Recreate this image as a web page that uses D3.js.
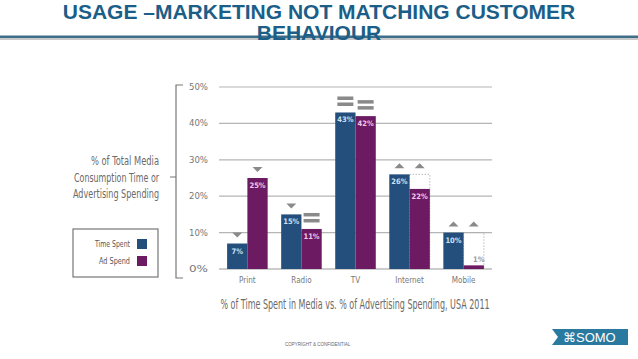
<!DOCTYPE html>
<html>
<head>
<meta charset="utf-8">
<script src="https://cdn.jsdelivr.net/npm/d3@7"></script>
<style>
  body { margin: 0; background: #fff; }
  svg { display: block; }
</style>
</head>
<body>
<div class="chart"></div>
<script>
let categories = ["Print", "Radio", "TV", "Internet", "Mobile"]
let timeSpent = [7, 15, 43, 26, 10]
let adSpend = [25, 11, 42, 22, 1]
// trend marker above each bar: down, flat, up
let timeMarker = ["down", "down", "flat", "up", "up"]
let adMarker = ["down", "flat", "flat", "up", "up"]
let yTicks = [0, 10, 20, 30, 40, 50]

let width = 638, height = 359
let svg = d3.select(".chart")
    .append("svg")
    .attr("width", width)
    .attr("height", height)

let blue = "#244e7c", purple = "#6c1a62", grey = "#8a8a8a"
let condensed = "'DejaVu Sans Condensed', 'Liberation Sans Narrow', sans-serif"

// title
let title = svg.append("g")
title.append("rect").attr("x", 0).attr("y", 38).attr("width", width).attr("height", 2).attr("fill", "#c8c8c8")
title.append("rect").attr("x", 0).attr("y", 35.5).attr("width", width).attr("height", 2.5).attr("fill", "#3f6f88")
title.selectAll("text")
    .data(["USAGE \u2013MARKETING NOT MATCHING CUSTOMER", "BEHAVIOUR"])
    .enter()
    .append("text")
    .attr("x", 319)
    .attr("y", (d, i) => i == 0 ? 19 : 40)
    .attr("text-anchor", "middle")
    .attr("font-family", "Liberation Sans, Arial, sans-serif")
    .attr("font-weight", "bold")
    .attr("font-size", 21)
    .attr("fill", "#1b5e88")
    .text(d => d)

// scales
let x = d3.scaleBand().domain(categories).range([219, 492]).paddingInner(0.25).paddingOuter(0.15)
let xSub = d3.scaleBand().domain(["time", "ad"]).range([0, x.bandwidth()])
let y = d3.scaleLinear().domain([0, 50]).range([269, 87])

// gridlines
svg.append("g")
    .selectAll("line")
    .data(yTicks)
    .enter()
    .append("line")
    .attr("x1", 219).attr("x2", 492)
    .attr("y1", d => y(d)).attr("y2", d => y(d))
    .attr("stroke", d => d == 0 ? "#9a9a9a" : "#b5b5b5")
    .attr("stroke-width", 1.2)

// y tick labels
svg.append("g")
    .selectAll("text")
    .data(yTicks)
    .enter()
    .append("text")
    .attr("x", 208)
    .attr("y", d => y(d) + 3)
    .attr("text-anchor", "end")
    .attr("font-family", condensed)
    .attr("font-size", 8)
    .attr("fill", "#777")
    .attr("textLength", 19)
    .attr("lengthAdjust", "spacingAndGlyphs")
    .text(d => d + "%")

// bracket
svg.append("path")
    .attr("fill", "none")
    .attr("stroke", "#777")
    .attr("stroke-width", 1.2)
    .attr("d", `M183,${y(50) - 2} H176 V${y(0) + 9} H183 M176,177 H170`)

// y title
let yTitle = ["% of Total Media", "Consumption Time or", "Advertising Spending"]
let yTitleLen = [68, 85, 86]
svg.append("g")
    .selectAll("text")
    .data(yTitle)
    .enter()
    .append("text")
    .attr("x", 159)
    .attr("y", (d, i) => 165 + i * 16.5)
    .attr("text-anchor", "end")
    .attr("font-family", condensed)
    .attr("font-size", 12)
    .attr("fill", "#6a6a6a")
    .attr("textLength", (d, i) => yTitleLen[i])
    .attr("lengthAdjust", "spacingAndGlyphs")
    .text(d => d)

// legend
let legend = svg.append("g")
legend.append("rect").attr("x", 73).attr("y", 229).attr("width", 85).attr("height", 48)
    .attr("fill", "none").attr("stroke", "#777").attr("stroke-width", 1.2)
legend.selectAll("text")
    .data(["Time Spent", "Ad Spend"])
    .enter()
    .append("text")
    .attr("x", 130)
    .attr("y", (d, i) => 247 + i * 17)
    .attr("text-anchor", "end")
    .attr("font-family", condensed)
    .attr("font-size", 8)
    .attr("fill", "#555")
    .attr("textLength", (d, i) => i == 0 ? 35 : 31)
    .attr("lengthAdjust", "spacingAndGlyphs")
    .text(d => d)
legend.selectAll("rect.sw")
    .data([blue, purple])
    .enter()
    .append("rect")
    .attr("class", "sw")
    .attr("x", 137)
    .attr("y", (d, i) => 239 + i * 17)
    .attr("width", 10).attr("height", 10)
    .attr("fill", d => d)

// bars
let rows = categories.map((c, i) => [
    { cat: c, key: "time", value: timeSpent[i], marker: timeMarker[i], color: blue },
    { cat: c, key: "ad", value: adSpend[i], marker: adMarker[i], color: purple }
])
let bars = rows.flat()

// dotted outline where ad spend lags time spent (internet, mobile)
svg.append("g")
    .selectAll("rect")
    .data(rows.filter(r => r[0].marker == "up"))
    .enter()
    .append("rect")
    .attr("x", d => x(d[1].cat) + xSub("ad"))
    .attr("y", d => y(d[0].value))
    .attr("width", xSub.bandwidth())
    .attr("height", d => y(0) - y(d[0].value))
    .attr("fill", "none")
    .attr("stroke", "#aaa")
    .attr("stroke-width", 0.8)
    .attr("stroke-dasharray", "1.5,1.5")

svg.append("g")
    .selectAll("rect")
    .data(bars)
    .enter()
    .append("rect")
    .attr("x", d => x(d.cat) + xSub(d.key))
    .attr("y", d => y(d.value))
    .attr("width", xSub.bandwidth())
    .attr("height", d => y(0) - y(d.value))
    .attr("fill", d => d.color)

// value labels
svg.append("g")
    .selectAll("text")
    .data(bars)
    .enter()
    .append("text")
    .attr("x", d => x(d.cat) + xSub(d.key) + xSub.bandwidth() / 2)
    .attr("y", d => d.value < 3 ? y(d.value) - 3 : y(d.value) + 10)
    .attr("text-anchor", "middle")
    .attr("font-family", condensed)
    .attr("font-weight", "bold")
    .attr("font-size", 7.5)
    .attr("fill", d => d.value < 3 ? "#999" : (d.key == "time" ? "#cfe0f0" : "#f2c9ea"))
    .attr("dx", d => d.value < 3 ? 5 : 0)
    .text(d => d.value + "%")

// markers
let markers = svg.append("g").attr("fill", grey)
bars.forEach(d => {
    let cx = x(d.cat) + xSub(d.key) + xSub.bandwidth() / 2
    let top = d.marker == "up" && d.key == "ad" ? y(rows[categories.indexOf(d.cat)][0].value) : y(d.value)
    if (d.marker == "down") {
        markers.append("path").attr("d", `M${cx - 5},${top - 11} H${cx + 5} L${cx},${top - 6} Z`)
    } else if (d.marker == "up") {
        markers.append("path").attr("d", `M${cx - 5},${top - 6} H${cx + 5} L${cx},${top - 11} Z`)
    } else {
        markers.append("rect").attr("x", cx - 8).attr("y", top - 16).attr("width", 16).attr("height", 3.5)
        markers.append("rect").attr("x", cx - 8).attr("y", top - 10).attr("width", 16).attr("height", 3.5)
    }
})

// category labels
svg.append("g")
    .selectAll("text")
    .data(categories)
    .enter()
    .append("text")
    .attr("x", d => x(d) + x.bandwidth() / 2)
    .attr("y", 283)
    .attr("text-anchor", "middle")
    .attr("font-family", condensed)
    .attr("font-size", 8)
    .attr("fill", "#777")
    .text(d => d)

// bottom caption, squeezed horizontally like the condensed original
svg.append("g")
    .attr("transform", "translate(355,309) scale(0.66,1)")
    .append("text")
    .attr("text-anchor", "middle")
    .attr("font-family", condensed)
    .attr("font-size", 13.5)
    .attr("fill", "#6a6a6a")
    .text("% of Time Spent in Media vs. % of Advertising Spending, USA 2011")

// footer
svg.append("text")
    .attr("x", 285)
    .attr("y", 346)
    .attr("font-family", "Liberation Sans, Arial, sans-serif")
    .attr("font-size", 4.5)
    .attr("fill", "#666")
    .text("COPYRIGHT & CONFIDENTIAL")

svg.append("path")
    .attr("fill", "#2a7aa0")
    .attr("d", "M552,329 H628 V345 H552 L558,337 Z")
svg.append("text")
    .attr("x", 563)
    .attr("y", 342)
    .attr("font-family", "Liberation Sans, Arial, sans-serif")
    .attr("font-size", 13)
    .attr("fill", "#fff")
    .text("\u2318SOMO")
</script>
</body>
</html>
